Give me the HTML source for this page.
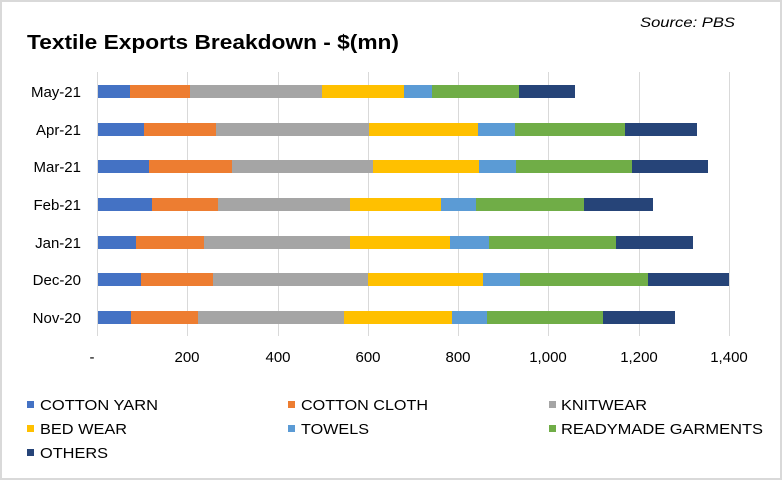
<!DOCTYPE html>
<html><head><style>body{margin:0;background:#fff}svg{display:block;font-family:"Liberation Sans",Arial,sans-serif}</style></head><body>
<svg width="782" height="480" viewBox="0 0 782 480" xmlns="http://www.w3.org/2000/svg">
<rect x="1" y="1" width="780" height="478" fill="#fff" stroke="#d9d9d9" stroke-width="2"/>
<text x="27" y="49" font-size="20" font-weight="bold" fill="#000" textLength="372" lengthAdjust="spacingAndGlyphs">Textile Exports Breakdown - $(mn)</text>
<text x="640" y="27" font-size="14" font-style="italic" fill="#000" textLength="95" lengthAdjust="spacingAndGlyphs">Source: PBS</text>
<g stroke="#d9d9d9" stroke-width="1">
<line x1="97.5" y1="72" x2="97.5" y2="336"/><line x1="187.5" y1="72" x2="187.5" y2="336"/><line x1="278.5" y1="72" x2="278.5" y2="336"/><line x1="368.5" y1="72" x2="368.5" y2="336"/><line x1="458.5" y1="72" x2="458.5" y2="336"/><line x1="548.5" y1="72" x2="548.5" y2="336"/><line x1="639.5" y1="72" x2="639.5" y2="336"/><line x1="729.5" y1="72" x2="729.5" y2="336"/>
</g>
<g font-size="15" fill="#000" text-anchor="middle">
<text x="92" y="362">-</text><text x="187" y="362">200</text><text x="278" y="362">400</text><text x="368" y="362">600</text><text x="458" y="362">800</text><text x="548" y="362">1,000</text><text x="639" y="362">1,200</text><text x="729" y="362">1,400</text>
</g>
<g font-size="15" fill="#000" text-anchor="end">
<text x="81" y="97">May-21</text><text x="81" y="135">Apr-21</text><text x="81" y="172">Mar-21</text><text x="81" y="210">Feb-21</text><text x="81" y="248">Jan-21</text><text x="81" y="285">Dec-20</text><text x="81" y="323">Nov-20</text>
</g>
<g>
<rect x="98" y="85" width="32" height="13" fill="#4472c4"/><rect x="130" y="85" width="60" height="13" fill="#ed7d31"/><rect x="190" y="85" width="132" height="13" fill="#a5a5a5"/><rect x="322" y="85" width="82" height="13" fill="#ffc000"/><rect x="404" y="85" width="28" height="13" fill="#5b9bd5"/><rect x="432" y="85" width="87" height="13" fill="#70ad47"/><rect x="519" y="85" width="56" height="13" fill="#264478"/>
<rect x="98" y="123" width="46" height="13" fill="#4472c4"/><rect x="144" y="123" width="72" height="13" fill="#ed7d31"/><rect x="216" y="123" width="153" height="13" fill="#a5a5a5"/><rect x="369" y="123" width="109" height="13" fill="#ffc000"/><rect x="478" y="123" width="37" height="13" fill="#5b9bd5"/><rect x="515" y="123" width="110" height="13" fill="#70ad47"/><rect x="625" y="123" width="72" height="13" fill="#264478"/>
<rect x="98" y="160" width="51" height="13" fill="#4472c4"/><rect x="149" y="160" width="83" height="13" fill="#ed7d31"/><rect x="232" y="160" width="141" height="13" fill="#a5a5a5"/><rect x="373" y="160" width="106" height="13" fill="#ffc000"/><rect x="479" y="160" width="37" height="13" fill="#5b9bd5"/><rect x="516" y="160" width="116" height="13" fill="#70ad47"/><rect x="632" y="160" width="76" height="13" fill="#264478"/>
<rect x="98" y="198" width="54" height="13" fill="#4472c4"/><rect x="152" y="198" width="66" height="13" fill="#ed7d31"/><rect x="218" y="198" width="132" height="13" fill="#a5a5a5"/><rect x="350" y="198" width="91" height="13" fill="#ffc000"/><rect x="441" y="198" width="35" height="13" fill="#5b9bd5"/><rect x="476" y="198" width="108" height="13" fill="#70ad47"/><rect x="584" y="198" width="69" height="13" fill="#264478"/>
<rect x="98" y="236" width="38" height="13" fill="#4472c4"/><rect x="136" y="236" width="68" height="13" fill="#ed7d31"/><rect x="204" y="236" width="146" height="13" fill="#a5a5a5"/><rect x="350" y="236" width="100" height="13" fill="#ffc000"/><rect x="450" y="236" width="39" height="13" fill="#5b9bd5"/><rect x="489" y="236" width="127" height="13" fill="#70ad47"/><rect x="616" y="236" width="77" height="13" fill="#264478"/>
<rect x="98" y="273" width="43" height="13" fill="#4472c4"/><rect x="141" y="273" width="72" height="13" fill="#ed7d31"/><rect x="213" y="273" width="155" height="13" fill="#a5a5a5"/><rect x="368" y="273" width="115" height="13" fill="#ffc000"/><rect x="483" y="273" width="37" height="13" fill="#5b9bd5"/><rect x="520" y="273" width="128" height="13" fill="#70ad47"/><rect x="648" y="273" width="81" height="13" fill="#264478"/>
<rect x="98" y="311" width="33" height="13" fill="#4472c4"/><rect x="131" y="311" width="67" height="13" fill="#ed7d31"/><rect x="198" y="311" width="146" height="13" fill="#a5a5a5"/><rect x="344" y="311" width="108" height="13" fill="#ffc000"/><rect x="452" y="311" width="35" height="13" fill="#5b9bd5"/><rect x="487" y="311" width="116" height="13" fill="#70ad47"/><rect x="603" y="311" width="72" height="13" fill="#264478"/>
</g>
<g font-size="15" fill="#000">
<rect x="27" y="401" width="7" height="7" fill="#4472c4"/><text x="40" y="410" textLength="118" lengthAdjust="spacingAndGlyphs">COTTON YARN</text>
<rect x="288" y="401" width="7" height="7" fill="#ed7d31"/><text x="301" y="410" textLength="127" lengthAdjust="spacingAndGlyphs">COTTON CLOTH</text>
<rect x="549" y="401" width="7" height="7" fill="#a5a5a5"/><text x="561" y="410" textLength="86" lengthAdjust="spacingAndGlyphs">KNITWEAR</text>
<rect x="27" y="425" width="7" height="7" fill="#ffc000"/><text x="40" y="434" textLength="87" lengthAdjust="spacingAndGlyphs">BED WEAR</text>
<rect x="288" y="425" width="7" height="7" fill="#5b9bd5"/><text x="301" y="434" textLength="68" lengthAdjust="spacingAndGlyphs">TOWELS</text>
<rect x="549" y="425" width="7" height="7" fill="#70ad47"/><text x="561" y="434" textLength="202" lengthAdjust="spacingAndGlyphs">READYMADE GARMENTS</text>
<rect x="27" y="449" width="7" height="7" fill="#264478"/><text x="40" y="458" textLength="68" lengthAdjust="spacingAndGlyphs">OTHERS</text>
</g>
</svg>
</body></html>
